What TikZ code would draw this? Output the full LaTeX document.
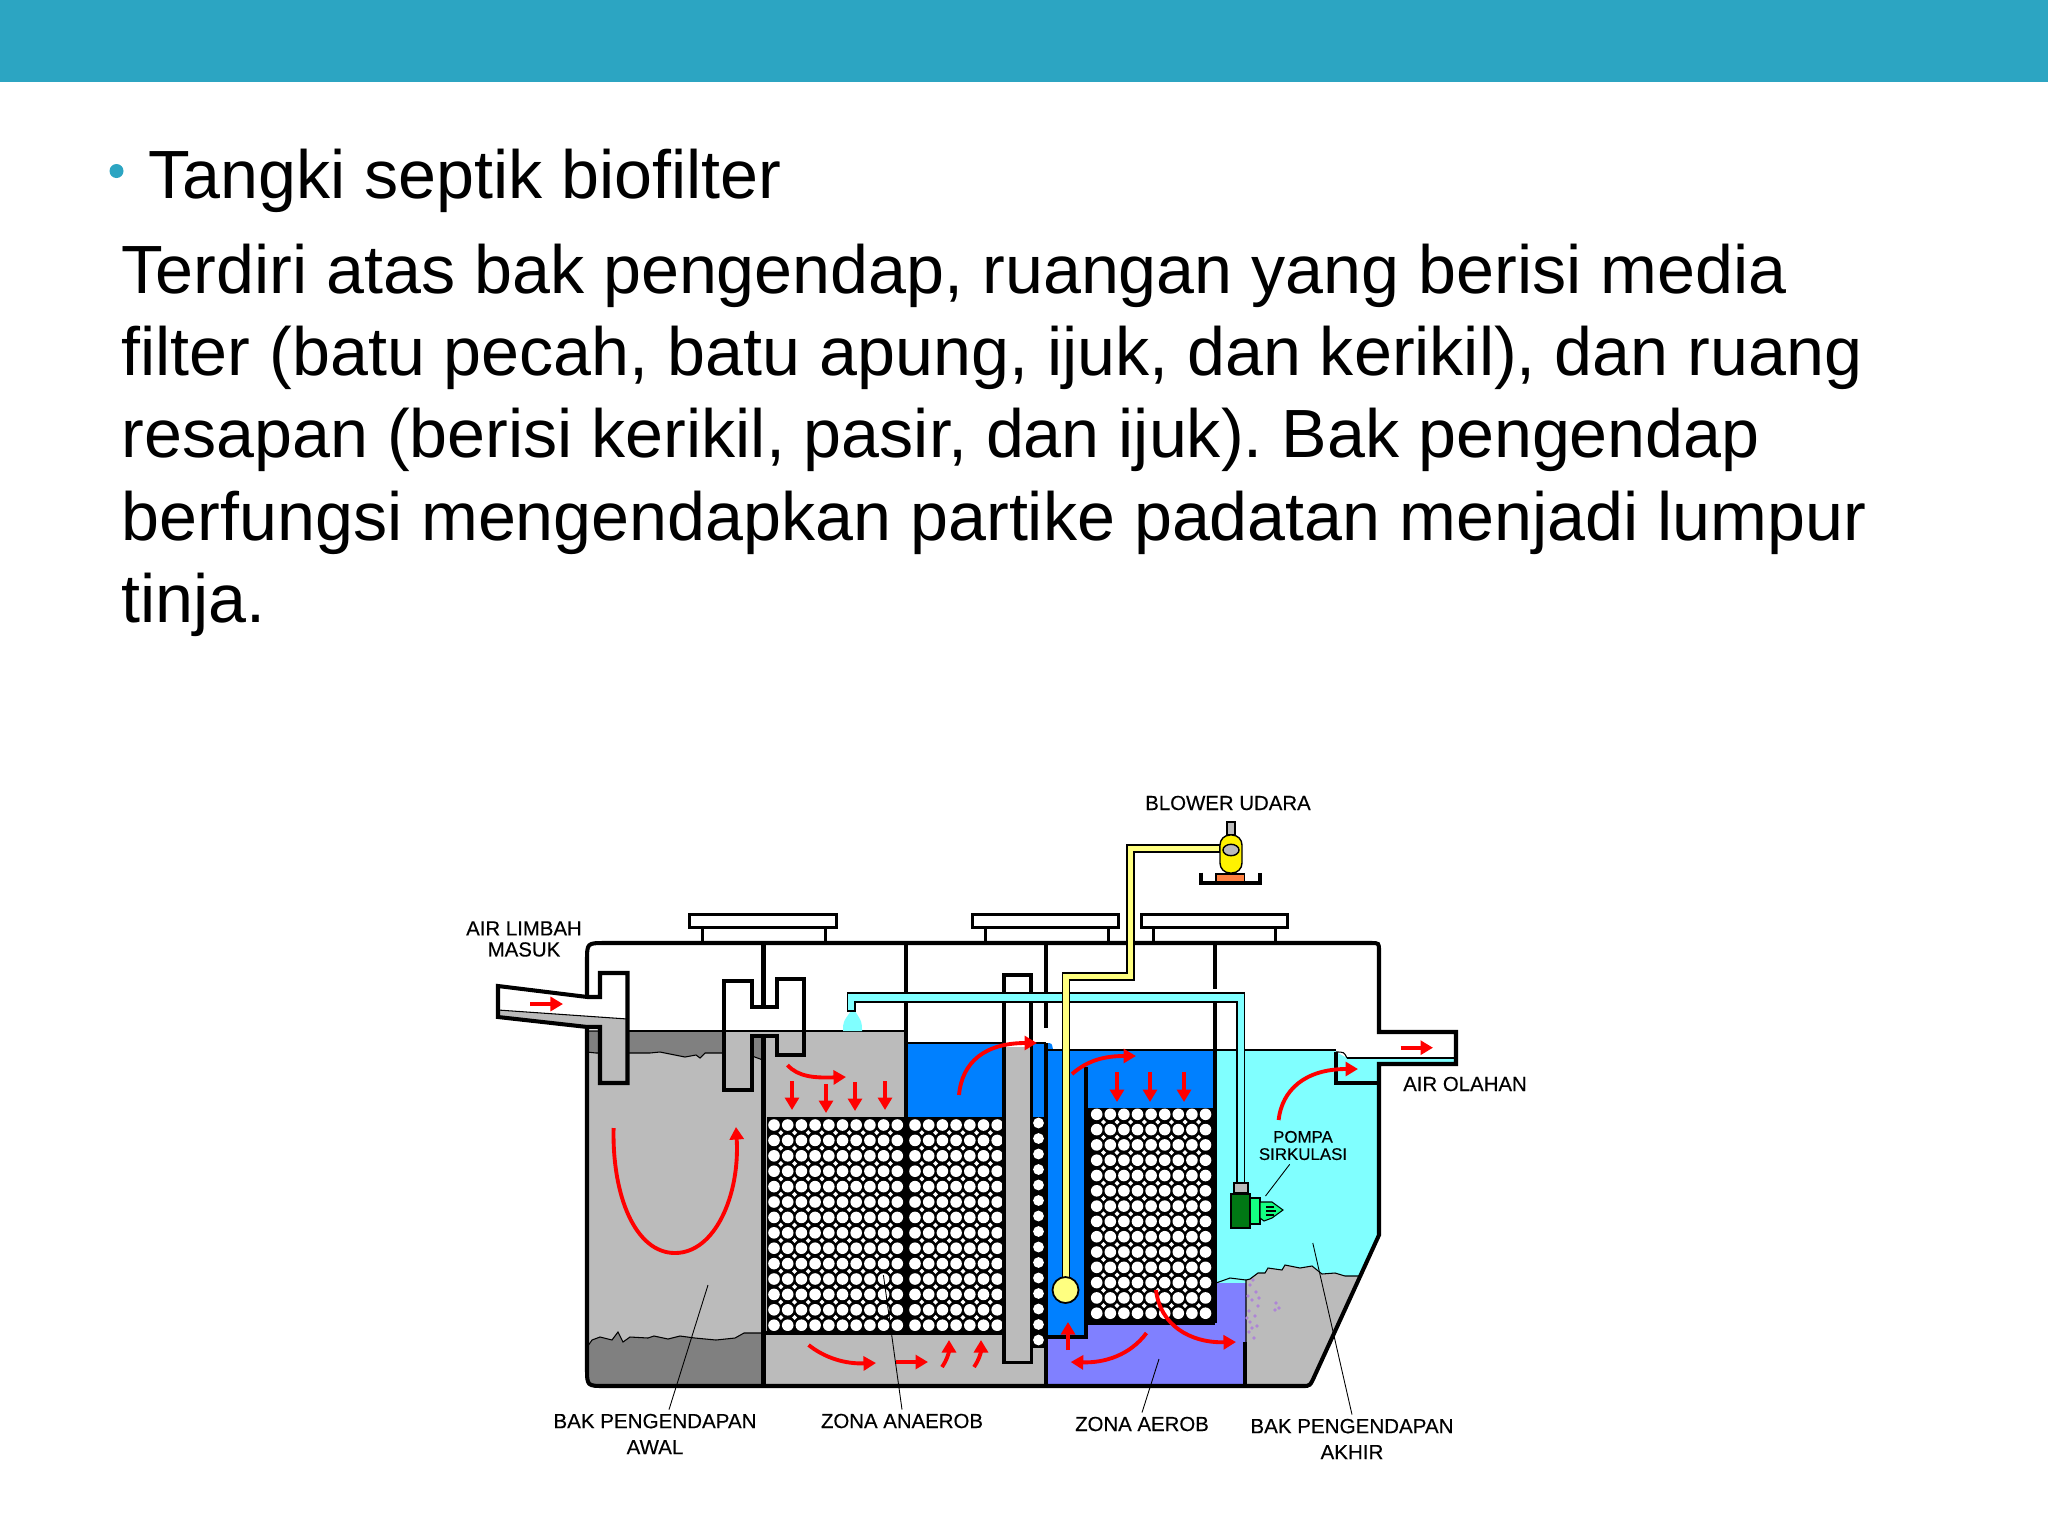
\documentclass[tikz,border=0pt]{standalone}
\usepackage{fontspec}
\setmainfont{Liberation Sans}
\newfontfamily\labelfont[FakeBold=0.3]{Liberation Sans}
\usetikzlibrary{arrows.meta, positioning}

\definecolor{bandcol}{RGB}{44,165,194}
\definecolor{sewage}{RGB}{187,187,187}
\definecolor{sludge}{RGB}{128,128,128}
\definecolor{aerobblue}{RGB}{0,128,255}
\definecolor{purplezone}{RGB}{128,128,255}
\definecolor{cleanwater}{RGB}{128,255,255}
\definecolor{airpipe}{RGB}{255,255,128}
\definecolor{pumpdark}{RGB}{0,120,20}
\definecolor{pumplight}{RGB}{20,255,130}
\definecolor{blowerbase}{RGB}{255,128,64}

\newcommand{\tankpath}{(587,997) -- (587,961) .. controls (587,943) .. (605,943) -- (1371,943) .. controls (1379,943) .. (1379,951) -- (1379,1032) -- (1456,1032) -- (1456,1064) -- (1379,1064) -- (1379,1235) -- (1315,1375) .. controls (1310,1386) .. (1303,1386) -- (605,1386) .. controls (587,1386) .. (587,1368) -- (587,1027)}

\begin{document}
\begin{tikzpicture}[x=0.01cm, y=-0.01cm,
	wall/.style={line width=1.15pt, line join=miter},
	thinline/.style={line width=0.3pt},
	flow/.style={draw=red, line width=1.1pt, -{Triangle[length=1.25mm, width=1.4mm]}},
	leader/.style={line width=0.25pt},
	lbl/.style={font=\labelfont\fontsize{5.8}{6}\selectfont, align=center, inner sep=1pt},
	lid/.style={line width=0.85pt, fill=white}
	]
\useasboundingbox (0,0) rectangle (2048,1536);

% slide
\fill[bandcol] (0,0) rectangle (2048,82);
\fill[bandcol] (116.5,171) circle (7);
\node[anchor=base west, inner sep=0pt, font=\fontsize{19.4}{23.4}\selectfont] (title) at (147.5,198) {Tangki septik biofilter};
\node[anchor=north west, inner sep=0pt, align=left, font=\frenchspacing\fontsize{19.4}{23.4}\selectfont] (body) at (121,243) {Terdiri atas bak pengendap, ruangan yang berisi media\\
filter (batu pecah, batu apung, ijuk, dan kerikil), dan ruang\\
resapan (berisi kerikil, pasir, dan ijuk). Bak pengendap\\
berfungsi mengendapkan partike padatan menjadi lumpur\\
tinja.};

% water in the tank
\begin{scope}
\clip \tankpath -- cycle;
\fill[sewage] (587,1031) rectangle (906,1386);
\fill[sewage] (765,1333) rectangle (1047,1386);
\filldraw[fill=sludge, thinline] (587,1031) -- (587,1052) -- (596,1053) -- (650,1053) -- (660,1052) -- (675,1055) -- (685,1057) -- (696,1055) -- (700,1058) -- (705,1053) -- (724,1053) -- (752,1056) -- (763,1060) -- (763,1031) -- cycle;
\filldraw[fill=sludge, thinline] (585,1350) -- (592,1340) -- (600,1337) -- (612,1340) -- (618,1332) -- (623,1342) -- (630,1337) -- (648,1338) -- (654,1336) -- (668,1339) -- (680,1336) -- (695,1338) -- (716,1340) -- (735,1338) -- (744,1333) -- (765,1333) -- (765,1390) -- (585,1390) -- cycle;
\fill[aerobblue] (906,1043) rectangle (1046,1120);
\fill[aerobblue] (1046,1050) rectangle (1215,1110);
\fill[cleanwater] (1215,1050) -- (1336,1050) -- (1336,1052) -- (1347,1058) -- (1456,1058) -- (1456,1064) -- (1379,1064) -- (1379,1300) -- (1215,1300) -- cycle;
\fill[purplezone] (1046,1323) rectangle (1246,1386);
\fill[purplezone] (1215,1283) rectangle (1246,1323);
\fill[aerobblue] (1046,1050) rectangle (1087,1337);
\fill[aerobblue] (1046,1043) .. controls (1052,1043) .. (1053,1050) -- (1046,1050) -- cycle;
\filldraw[fill=sewage, thinline] (1246,1280) -- (1250,1279) -- (1258,1273) -- (1265,1273) -- (1268,1268) -- (1282,1270) -- (1285,1265) -- (1300,1268) -- (1312,1266) -- (1322,1274) -- (1335,1273) -- (1345,1276) -- (1365,1276) -- (1380,1390) -- (1246,1390) -- cycle;
\draw[thinline] (1216,1283) -- (1230,1278) -- (1246,1280);
\foreach \sx/\sy in {1250/1285, 1256/1292, 1252/1300, 1258/1306, 1249/1311, 1255/1316, 1250/1322, 1257/1326, 1249/1332, 1254/1338, 1253/1280, 1259/1298, 1248/1296, 1247/1318, 1252/1328, 1276/1303, 1279/1308, 1275/1310}
	\fill[purplezone!80!red!80!white] (\sx,\sy) circle (1.8);
\end{scope}

% media filter
\fill[black] (767,1117) rectangle (906,1334);
\fill[black] (906,1117) rectangle (1004,1334);
\fill[black] (1032,1117) rectangle (1046,1348);
\fill[black] (1087,1108) rectangle (1215,1324);
\foreach \col in {0,...,9}
	\foreach \row in {0,...,13}
		\fill[white] (774+\col*13.7,1125+\row*15.4) circle (5.8);
\foreach \col in {0,...,8}
	\foreach \row in {0,...,12}
		\fill[white] (780.85+\col*13.7,1132.7+\row*15.4) +(-2.5,0) -- +(0,-2.5) -- +(2.5,0) -- +(0,2.5) -- cycle;
\foreach \col in {0,...,6}
	\foreach \row in {0,...,13}
		\fill[white] (915+\col*13.7,1125+\row*15.4) circle (5.8);
\foreach \col in {0,...,5}
	\foreach \row in {0,...,12}
		\fill[white] (921.85+\col*13.7,1132.7+\row*15.4) +(-2.5,0) -- +(0,-2.5) -- +(2.5,0) -- +(0,2.5) -- cycle;
\foreach \row in {0,...,14}
	\fill[white] (1038.5,1123+\row*15.5) circle (5.4);
\foreach \col in {0,...,8}
	\foreach \row in {0,...,13}
		\fill[white] (1096.7+\col*13.6,1114.3+\row*15.3) circle (5.8);
\foreach \col in {0,...,7}
	\foreach \row in {0,...,12}
		\fill[white] (1103.5+\col*13.6,1122+\row*15.3) +(-2.5,0) -- +(0,-2.5) -- +(2.5,0) -- +(0,2.5) -- cycle;

% inlet pipe
\fill[white] (498,986) -- (587.5,997) -- (600,997) -- (600,973) -- (627.5,973) -- (627.5,1083) -- (600,1083) -- (600,1027) -- (587.5,1027) -- (498,1017) -- cycle;
\fill[sewage] (498,1010) -- (627.5,1019) -- (627.5,1083) -- (600,1083) -- (600,1027) -- (587.5,1027) -- (498,1017) -- cycle;
\draw[thinline] (498,1010) -- (627.5,1019);
\draw[wall] (498,986) -- (587.5,997) -- (600,997) -- (600,973) -- (627.5,973) -- (627.5,1083) -- (600,1083) -- (600,1027) -- (587.5,1027) -- (498,1017) -- cycle;

% baffle
\fill[white] (724,981) -- (752,981) -- (752,1007) -- (777,1007) -- (777,979) -- (803.6,979) -- (803.6,1031) -- (724,1031) -- cycle;
\fill[sewage] (724,1031) -- (803.6,1031) -- (803.6,1055) -- (777,1055) -- (777,1036) -- (752,1036) -- (752,1090) -- (724,1090) -- cycle;
\draw[wall] (724,981) -- (752,981) -- (752,1007) -- (777,1007) -- (777,979) -- (803.6,979) -- (803.6,1055) -- (777,1055) -- (777,1036) -- (752,1036) -- (752,1090) -- (724,1090) -- cycle;

% water levels
\draw[thinline] (627,1031) -- (906,1031);
\draw[thinline] (906,1043) -- (1046,1043);
\draw[thinline] (1046,1050) -- (1336,1050);
\draw[thinline] (1347,1058) -- (1456,1058);

% grey column
\filldraw[fill=white, wall] (1004,975) rectangle (1031,1362);
\fill[sewage] (1005.5,1047) rectangle (1029.5,1360.5);

% walls
\draw[wall] \tankpath;
\draw[wall] (763.5,943) -- (763.5,1007);
\draw[wall] (763.5,1036) -- (763.5,1386);
\draw[wall] (906,943) -- (906,1333);
\draw[wall] (766,1333) -- (1004,1333);
\draw[wall] (1045.7,943) -- (1045.7,1028);
\draw[wall] (1046,1043) -- (1046,1386);
\draw[wall] (1046,1337) -- (1086,1337) -- (1086,1067);
\draw[wall] (1214.7,943) -- (1214.7,989);
\draw[wall] (1214.7,1002) -- (1214.7,1323);
\draw[wall] (1087,1323) -- (1215,1323);
\draw[wall] (1245,1342) -- (1245,1386);
\draw[wall] (1336,1052) -- (1336,1083) -- (1379,1083);
\draw[thinline] (1336,1052) .. controls (1344,1052) .. (1347,1058);

% lids
\draw[lid] (702,927) -- (702,943) (825,927) -- (825,943);
\draw[lid] (689,914) rectangle (836,927);
\draw[lid] (985,927) -- (985,943) (1108,927) -- (1108,943);
\draw[lid] (972,914) rectangle (1118.6,927);
\draw[lid] (1153.6,927) -- (1153.6,943) (1275.7,927) -- (1275.7,943);
\draw[lid] (1141,914) rectangle (1287.5,927);

% circulation pipe and spray
\fill[cleanwater] (851,1011) .. controls (843,1022) .. (843,1031) -- (862,1031) .. controls (862,1022) .. (855,1011) -- cycle;
\filldraw[fill=cleanwater, thinline] (847.5,1011) -- (847.5,993) -- (1244.6,993) -- (1244.6,1183) -- (1237,1183) -- (1237,1002) -- (855,1002) -- (855,1011) -- cycle;

% air pipe
\filldraw[fill=airpipe, thinline] (1220,845) -- (1127,845) -- (1127,973) -- (1062.5,973) -- (1062.5,1280) -- (1069.6,1280) -- (1069.6,980) -- (1134,980) -- (1134,852) -- (1220,852) -- cycle;
\filldraw[fill=airpipe, line width=0.5pt] (1065.5,1290) circle (13);

% blower
\filldraw[fill=sewage, thinline] (1227,822) rectangle (1235,835);
\filldraw[fill=yellow, line width=0.4pt, rounded corners=1mm] (1220,835) rectangle (1242,873);
\filldraw[fill=sewage, line width=0.4pt] (1231,850) ellipse (8 and 5.7);
\filldraw[fill=blowerbase, thinline] (1216,874) rectangle (1244.6,882);
\draw[wall] (1201,872.7) -- (1201,883) -- (1260,883) -- (1260,872.7);

% pump
\filldraw[fill=sewage, thinline] (1234,1183) rectangle (1248,1193);
\filldraw[fill=pumpdark, line width=0.4pt] (1231,1194) rectangle (1250,1228);
\filldraw[fill=pumplight, thinline] (1250,1198) rectangle (1260,1224);
\filldraw[fill=pumplight, thinline] (1260,1202) -- (1272,1202) -- (1283,1210) -- (1272,1218) -- (1264,1221) -- (1260,1218) -- cycle;
\draw[thinline] (1266,1207) -- (1274,1207) (1266,1211) -- (1276,1211) (1266,1215) -- (1274,1215);

% arrows
\draw[flow] (530,1004) -- (563,1004);
\draw[flow] (787.5,1065) .. controls (798,1077) and (815,1078) .. (846,1077);
\draw[flow] (792,1081) -- (792,1110);
\draw[flow] (826,1084) -- (826,1113);
\draw[flow] (855,1082) -- (855,1111);
\draw[flow] (885,1081) -- (885,1110);
\draw[flow] (613.6,1128) .. controls (612,1195) and (635,1253) .. (675,1253) .. controls (715,1253) and (740,1195) .. (736,1127);
\draw[flow] (959,1095) .. controls (962,1062) and (985,1043) .. (1037,1043);
\draw[flow] (1072,1074) .. controls (1088,1060) and (1105,1056) .. (1136,1056);
\draw[flow] (1117,1072) -- (1117,1102);
\draw[flow] (1150,1072) -- (1150,1102);
\draw[flow] (1184,1072) -- (1184,1102);
\draw[flow] (1278.6,1120) .. controls (1282,1090) and (1305,1069) .. (1358,1069);
\draw[flow] (1400.7,1047.7) -- (1433,1047.7);
\draw[flow] (808.6,1345) .. controls (825,1358) and (845,1364) .. (876,1363);
\draw[flow] (895.5,1362) -- (928,1362);
\draw[flow] (942,1367) .. controls (947,1360) and (949,1352) .. (949,1340);
\draw[flow] (974,1367) .. controls (979,1360) and (981,1352) .. (981,1340);
\draw[flow] (1068,1350) -- (1068,1322);
\draw[flow] (1146.5,1333) .. controls (1130,1355) and (1105,1363) .. (1070.7,1362);
\draw[flow] (1156,1290) .. controls (1160,1325) and (1190,1343) .. (1236,1342);

% labels
\node[lbl] (airlimbah) at (524,939) {AIR LIMBAH\\MASUK};
\node[lbl] (blower) at (1228,803) {BLOWER UDARA};
\node[lbl] (airolahan) at (1465,1084) {AIR OLAHAN};
\node[lbl, font=\labelfont\fontsize{4.8}{4.9}\selectfont] (pompa) at (1303,1145.5) {POMPA\\SIRKULASI};
\node[lbl, font=\labelfont\fontsize{5.85}{7.4}\selectfont] (bakawal) at (655,1434) {BAK PENGENDAPAN\\AWAL};
\node[lbl] (anaerob) at (902,1421) {ZONA ANAEROB};
\node[lbl] (aerob) at (1142,1424) {ZONA AEROB};
\node[lbl, font=\labelfont\fontsize{5.85}{7.4}\selectfont] (bakakhir) at (1352,1439) {BAK PENGENDAPAN\\AKHIR};

% leaders
\coordinate (tipawal) at (708,1285);
\coordinate (tipanaerob) at (883.4,1275);
\coordinate (tipaerob) at (1159,1359);
\coordinate (tipakhir) at (1312.8,1243);
\coordinate (tippompa) at (1265.5,1196);
\draw[leader] (tipawal) -- (bakawal.north -| 669,0);
\draw[leader] (tipanaerob) -- (anaerob.north);
\draw[leader] (tipaerob) -- (aerob.north);
\draw[leader] (tipakhir) -- (bakakhir.north);
\draw[leader] (tippompa) -- (pompa.south -| 1289.7,0);
\end{tikzpicture}
\end{document}
